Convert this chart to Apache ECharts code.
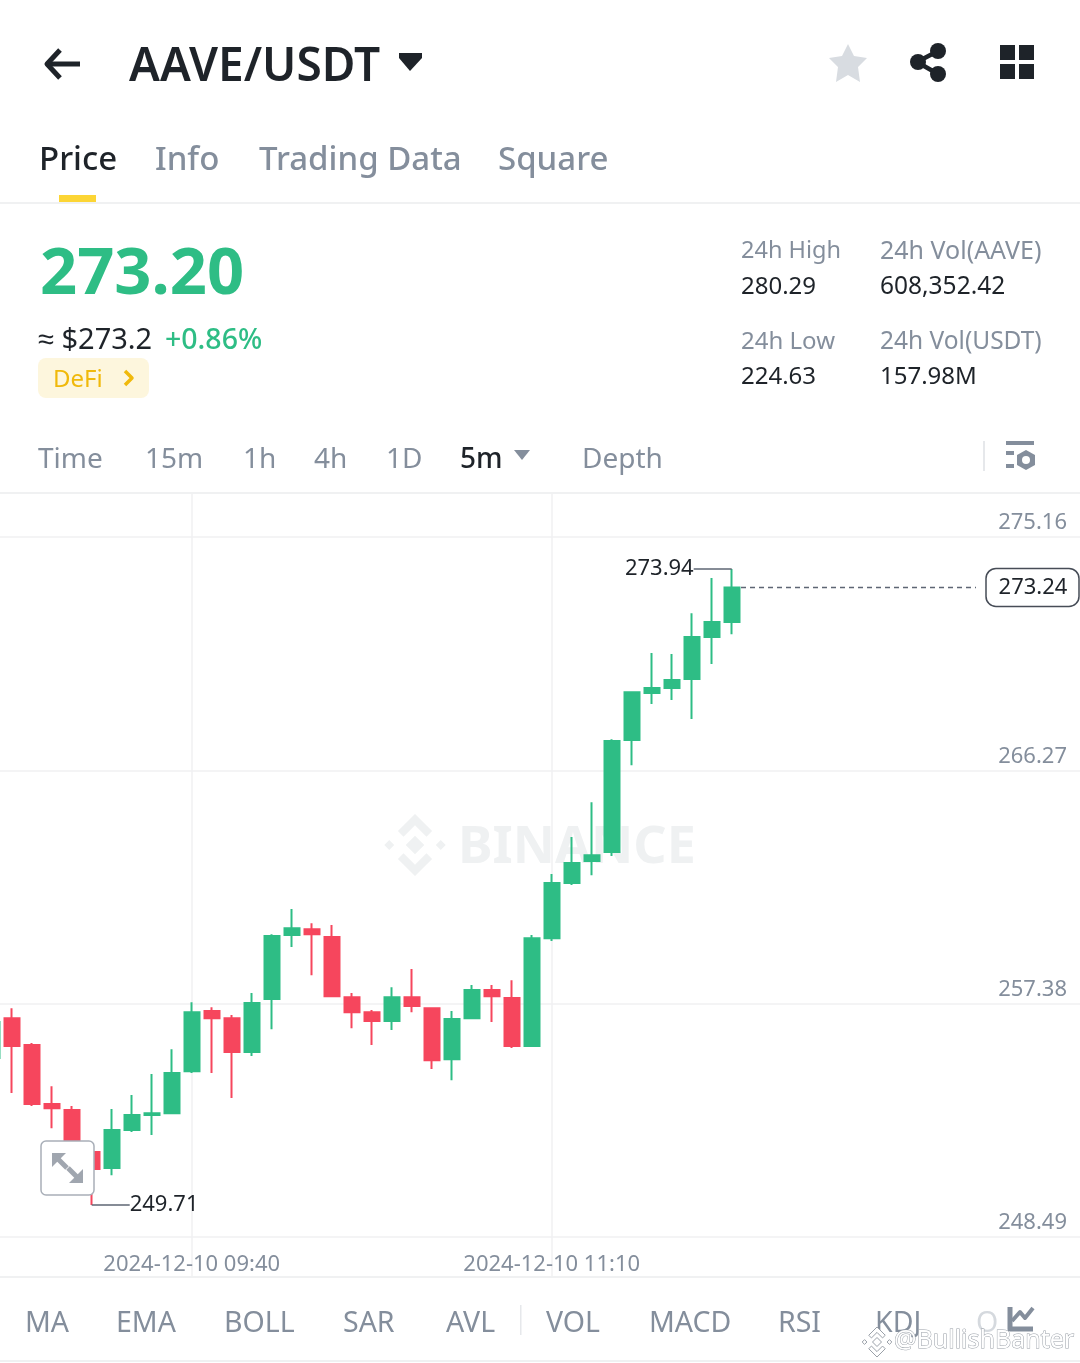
<!DOCTYPE html>
<html>
<head>
<meta charset="utf-8">
<title>AAVE/USDT</title>
<script src="https://cdn.jsdelivr.net/npm/echarts@6/dist/echarts.min.js"></script>
<style>
html, body { margin: 0; padding: 0; background: #fff; }
#main { width: 1080px; height: 1363px; }
</style>
</head>
<body>
<div id="main"></div>
<script>
var categories = ['08:50','08:55','09:00','09:05','09:10','09:15','09:20','09:25','09:30','09:35',
    '09:40','09:45','09:50','09:55','10:00','10:05','10:10','10:15','10:20','10:25',
    '10:30','10:35','10:40','10:45','10:50','10:55','11:00','11:05','11:10','11:15',
    '11:20','11:25','11:30','11:35','11:40','11:45','11:50','11:55','12:00','12:05',
    '12:10','12:15','12:20','12:25','12:30','12:35','12:40','12:45','12:50','12:55',
    '13:00','13:05','13:10','13:15','13:20'];
var opens = [255.31,256.83,255.81,253.56,253.33,251.73,251.12,252.57,253.14,253.21,
    254.81,257.10,256.83,255.54,257.56,260.00,260.22,259.92,257.63,257.06,
    256.72,257.63,257.21,255.27,256.83,257.90,257.60,255.77,259.88,261.98,
    262.82,263.16,267.43,269.22,269.41,269.75,271.35,271.92];
var closes = [256.68,255.77,253.56,253.40,251.73,251.08,252.57,253.14,253.21,254.74,
    257.06,256.83,255.54,257.41,259.96,260.26,260.03,257.67,257.06,256.72,
    257.63,257.29,255.23,256.80,257.90,257.67,255.77,259.88,261.98,262.74,
    263.04,267.39,269.25,269.41,269.71,271.35,271.92,273.24];
var lows = [255.23,253.98,253.48,252.64,251.65,249.71,250.85,252.49,252.38,253.21,
    254.74,254.74,253.79,255.39,256.41,259.54,258.47,257.63,256.45,255.81,
    256.38,257.06,254.89,254.47,256.83,256.68,255.69,255.77,259.77,261.90,
    262.28,263.01,266.47,268.80,268.95,268.23,270.32,271.46];
var highs = [256.83,257.21,255.88,254.24,253.48,251.96,253.37,253.90,254.70,255.65,
    257.44,257.25,256.95,257.79,260.03,260.99,260.45,260.38,257.79,257.14,
    258.01,258.70,257.21,257.10,258.09,258.09,258.28,260.00,262.32,263.73,
    265.06,267.46,269.25,270.74,270.70,272.26,273.60,273.94];
var priceTicks = [248.49, 257.38, 266.27, 275.16];
var dateLabels = {'09:40': '2024-12-10 09:40', '11:10': '2024-12-10 11:10'};
var lastPrice = 273.24;

var tabs = ['Price', 'Info', 'Trading Data', 'Square'];
var periods = ['Time', '15m', '1h', '4h', '1D', '5m', 'Depth'];
var indicators = ['MA', 'EMA', 'BOLL', 'SAR', 'AVL', 'VOL', 'MACD', 'RSI', 'KDJ'];

var UP = '#2EBD85', DOWN = '#F6465D', DARK = '#1E2329', GRAY = '#848E9C', LINE = '#F0F1F2';
var FONT = '"Noto Sans", sans-serif';

var candles = opens.map(function (o, i) {
    return [o, closes[i], lows[i], highs[i]];
});

var myChart = echarts.init(document.getElementById('main'));

myChart.setOption({
    animation: false,
    backgroundColor: '#fff',
    textStyle: { fontFamily: FONT },
    grid: { left: -18.3, width: 1100, top: 494, bottom: 86, containLabel: false, outerBoundsMode: 'none' },
    xAxis: {
        type: 'category',
        data: categories,
        boundaryGap: true,
        axisLine: { show: false },
        axisTick: { show: false },
        axisLabel: {
            inside: true,
            margin: 1,
            fontSize: 22,
            fontFamily: FONT,
            color: GRAY,
            verticalAlign: 'bottom',
            hideOverlap: false,
            interval: function (i, v) { return !!dateLabels[v]; },
            formatter: function (v) { return dateLabels[v] || ''; }
        },
        splitLine: {
            show: true,
            alignWithLabel: true,
            interval: function (i, v) { return !!dateLabels[v]; },
            lineStyle: { color: LINE, width: 1.5 }
        }
    },
    yAxis: {
        type: 'value',
        position: 'right',
        min: 246.97,
        max: 276.80,
        axisLine: { show: false },
        axisTick: { show: false, customValues: priceTicks },
        axisLabel: {
            inside: true,
            margin: 14.7,
            fontSize: 22,
            fontFamily: FONT,
            color: GRAY,
            verticalAlign: 'bottom',
            padding: [0, 0, 3, 0],
            customValues: priceTicks,
            formatter: function (v) { return v.toFixed(2); }
        },
        splitLine: { show: true, lineStyle: { color: LINE, width: 1.5 } }
    },
    series: [{
        name: 'AAVE/USDT',
        type: 'candlestick',
        data: candles,
        barWidth: 15.5,
        silent: true,
        itemStyle: {
            color: UP,
            color0: DOWN,
            borderColor: UP,
            borderColor0: DOWN,
            borderWidth: 2
        }
    }]
});

// y is the middle of the capitals, Noto sits a bit high in its line box
function text(x, y, str, size, color, weight, align) {
    return {
        type: 'text',
        x: x,
        y: y + size * 0.07,
        z: 20,
        silent: true,
        style: {
            text: str,
            fontSize: size,
            fontFamily: FONT,
            fontWeight: weight || 400,
            fill: color,
            align: align || 'left',
            verticalAlign: 'middle'
        }
    };
}

function rect(x, y, w, h, fill, r, z) {
    return {
        type: 'rect',
        z: z === undefined ? 20 : z,
        silent: true,
        shape: { x: x, y: y, width: w, height: h, r: r || 0 },
        style: { fill: fill }
    };
}

function poly(points, fill, z) {
    return {
        type: 'polygon',
        z: z === undefined ? 20 : z,
        silent: true,
        shape: { points: points },
        style: { fill: fill }
    };
}

function stroke(points, color, width, z, dash) {
    return {
        type: 'polyline',
        z: z === undefined ? 20 : z,
        silent: true,
        shape: { points: points },
        style: { stroke: color, lineWidth: width, fill: null, lineDash: dash || null, lineJoin: 'round' }
    };
}

function circle(cx, cy, r, fill) {
    return {
        type: 'circle',
        z: 20,
        silent: true,
        shape: { cx: cx, cy: cy, r: r },
        style: { fill: fill }
    };
}

// the exchange logo, used twice: the big watermark and the small outlined one
function logo(cx, cy, s, style, z) {
    var parts = [
        [[0, -0.3], [0.3, 0], [0, 0.3], [-0.3, 0]],
        [[-0.83, -0.16], [-0.67, 0], [-0.83, 0.16], [-0.99, 0]],
        [[0.83, -0.16], [0.99, 0], [0.83, 0.16], [0.67, 0]],
        [[0, -1], [0.55, -0.45], [0.37, -0.27], [0, -0.64], [-0.37, -0.27], [-0.55, -0.45]],
        [[0, 1], [0.55, 0.45], [0.37, 0.27], [0, 0.64], [-0.37, 0.27], [-0.55, 0.45]]
    ];
    return parts.map(function (part) {
        return {
            type: 'polygon',
            z: z,
            silent: true,
            shape: { points: part.map(function (p) { return [cx + p[0] * s, cy + p[1] * s]; }) },
            style: style
        };
    });
}

var els = [];

// header
els.push(stroke([[80, 64], [48, 64]], DARK, 5));
els.push(stroke([[60, 50], [47, 64], [60, 78]], DARK, 5));
els.push(text(129, 65, 'AAVE/USDT', 46, DARK, 600));
els.push(poly([[399, 53], [422, 53], [422, 58], [410, 71], [399, 58]], DARK));
els.push(poly([[848, 44], [854, 56], [867, 58], [858, 67], [860, 82], [848, 75], [836, 82], [838, 67], [829, 58], [842, 56]], '#D8DCE1'));
els.push(stroke([[938, 51], [917, 62], [938, 74]], DARK, 4.5));
els.push(circle(938, 51, 8, DARK));
els.push(circle(918, 62, 8, DARK));
els.push(circle(938, 74, 8, DARK));
els.push(rect(1000, 45, 15, 15, DARK));
els.push(rect(1019, 45, 15, 15, DARK));
els.push(rect(1000, 64, 15, 15, DARK));
els.push(rect(1019, 64, 15, 15, DARK));

// tabs
var tabX = [39, 155, 259, 498];
tabs.forEach(function (t, i) {
    els.push(text(tabX[i], 158, t, 33, i === 0 ? DARK : GRAY, 500));
});
els.push(rect(59, 195, 37, 8, '#FCD535'));
els.push(rect(0, 202, 1080, 2, LINE));

// price block
els.push(text(40, 271, '273.20', 65, UP, 700));
els.push(text(38, 339, '≈ $273.2', 29, DARK, 400));
els.push(text(165, 339, '+0.86%', 28.5, UP, 500));
els.push(rect(38, 358, 111, 40, '#FDF6DD', 8));
els.push(text(53, 378, 'DeFi', 24, '#F0B90B', 400));
els.push(stroke([[125, 371], [132, 378], [125, 385]], '#F0B90B', 3.5));

// 24h stats
els.push(text(741, 250, '24h High', 23.5, GRAY));
els.push(text(741, 285, '280.29', 24, DARK));
els.push(text(741, 340, '24h Low', 24, GRAY));
els.push(text(741, 375, '224.63', 24, DARK));
els.push(text(880, 250, '24h Vol(AAVE)', 25, GRAY));
els.push(text(880, 285, '608,352.42', 24.5, DARK));
els.push(text(880, 340, '24h Vol(USDT)', 24.5, GRAY));
els.push(text(880, 375, '157.98M', 24, DARK));

// period row
var periodX = [38, 145, 243, 314, 386, 460, 582];
periods.forEach(function (p, i) {
    els.push(text(periodX[i], 458, p, 28, i === 5 ? DARK : GRAY, i === 5 ? 500 : 400));
});
els.push(poly([[514, 450], [530, 450], [522, 460]], GRAY));
els.push(rect(983, 441, 2, 30, '#E6E8EB'));
els.push(rect(1006, 441, 28, 4, GRAY));
els.push(rect(1006, 451, 8, 4, GRAY));
els.push(rect(1006, 464, 8, 4, GRAY));
els.push(poly([[1026, 450], [1035, 455], [1035, 465], [1026, 470], [1017, 465], [1017, 455]], GRAY));
els.push(circle(1026, 460, 4, '#fff'));
els.push(rect(0, 492, 1080, 2, LINE));

// watermark, behind the candles
logo(415, 845, 31, { fill: '#EFF1F2' }, 0).forEach(function (e) { els.push(e); });
var wm = text(458, 845, 'BINANCE', 52, '#EFF1F2', 700);
wm.z = 0;
els.push(wm);

// footer
els.push(rect(0, 1276, 1080, 2, LINE));
els.push(rect(0, 1360, 1080, 2, LINE));
var indicatorX = [25, 116, 224, 343, 446, 546, 649, 778, 875];
indicators.forEach(function (t, i) {
    els.push(text(indicatorX[i], 1322, t, 28.5, GRAY));
});
els.push(rect(520, 1305, 1.5, 30, '#E6E8EB'));
els.push(text(976, 1322, 'O', 28.5, '#D5D9DE'));
els.push(stroke([[1010, 1307], [1010, 1329], [1033, 1329]], GRAY, 5));
els.push(stroke([[1012, 1321], [1020, 1312], [1025, 1318], [1033, 1308]], GRAY, 4));

// expand button over the candles
els.push({
    type: 'rect',
    z: 21,
    silent: true,
    shape: { x: 41, y: 1141, width: 53, height: 54, r: 5 },
    style: { fill: '#fff', stroke: '#A9AFB8', lineWidth: 1.5 }
});
[[[52, 1153], [66, 1153], [52, 1167]], [[83, 1183], [69, 1183], [83, 1169]]].forEach(function (pts) {
    var e = poly(pts, '#A0A6AF');
    e.z = 22;
    els.push(e);
});
[[[56, 1157], [67, 1168]], [[79, 1179], [68, 1168]]].forEach(function (pts) {
    var e = stroke(pts, '#A0A6AF', 5);
    e.z = 22;
    els.push(e);
});

// high, low and last price markers come from the axes
var series0 = { seriesIndex: 0 };
var pHigh = myChart.convertToPixel(series0, [37, highs[37]]);
var pLow = myChart.convertToPixel(series0, [5, lows[5]]);
var pLast = myChart.convertToPixel(series0, [37, lastPrice]);

els.push(stroke([[pHigh[0], pHigh[1]], [pHigh[0] - 38, pHigh[1]]], '#5E6673', 1.5));
els.push(text(pHigh[0] - 38, pHigh[1] - 2, highs[37].toFixed(2), 22, DARK, 400, 'right'));
els.push(stroke([[pLow[0], pLow[1]], [pLow[0] + 38, pLow[1]]], '#5E6673', 1.5, 21));
els.push(text(pLow[0] + 38, pLow[1] - 2, lows[5].toFixed(2), 22, DARK));

els.push(stroke([[741, pLast[1]], [976, pLast[1]]], '#5E6673', 1.5, 20, [5, 4]));
els.push({
    type: 'rect',
    z: 20,
    silent: true,
    shape: { x: 986, y: pLast[1] - 19, width: 93, height: 38, r: 10 },
    style: { fill: '#fff', stroke: '#474D57', lineWidth: 1.5 }
});
els.push(text(1033, pLast[1] - 1, lastPrice.toFixed(2), 22, DARK, 400, 'center'));

// reposter's tag, white letters with a thin outline
logo(877, 1342, 15, { fill: '#fff', stroke: '#9AA0A8', lineWidth: 1 }, 23).forEach(function (e) { els.push(e); });
els.push({
    type: 'text',
    x: 894,
    y: 1341,
    z: 23,
    silent: true,
    style: {
        text: '@BullishBanter',
        fontSize: 25,
        fontFamily: FONT,
        fill: '#fff',
        stroke: '#9AA0A8',
        lineWidth: 1,
        align: 'left',
        verticalAlign: 'middle'
    }
});

myChart.setOption({ graphic: els });
</script>
</body>
</html>
